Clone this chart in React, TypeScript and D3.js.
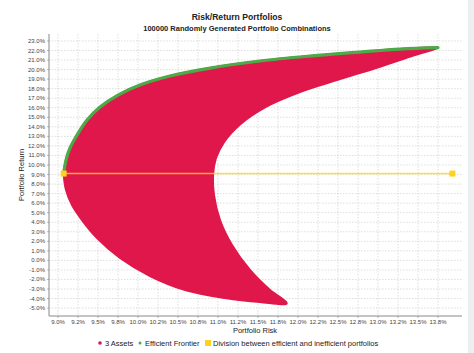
import React from "react";
import { scaleLinear, line, curveCatmullRom } from "d3";

// efficient (upper) frontier, from the minimum-variance point to the top tip
const upperRisk = [9.07, 9.1, 9.15, 9.238, 9.363, 9.525, 9.75, 10.025, 10.4, 10.9, 11.525, 12.15, 12.775, 13.275, 13.75];
const upperRet = [9.1, 10.52, 11.78, 13.14, 14.71, 16.08, 17.33, 18.38, 19.32, 20.16, 20.9, 21.42, 21.84, 22.15, 22.3];

// inner edge of the cloud, from the top tip down to the bottom tip
const innerRisk = [13.45, 13.025, 12.525, 12.025, 11.588, 11.275, 11.075, 10.975, 10.938, 10.95, 11.025, 11.175, 11.4, 11.65, 11.86];
const innerRet = [21.5, 20.3, 19.0, 17.65, 16.05, 14.25, 12.4, 10.73, 8.95, 6.85, 4.23, 1.61, -1.01, -3.11, -4.5];

// lower outer edge, from the bottom tip back to the minimum-variance point
const lowerRisk = [11.525, 11.088, 10.588, 10.15, 9.775, 9.488, 9.3, 9.175, 9.1, 9.075];
const lowerRet = [-4.36, -3.94, -3.11, -1.64, 0.25, 2.34, 4.23, 5.8, 7.38, 8.63];

// division line between efficient and inefficient portfolios
const divRisk = [9.07, 13.93];
const divRet = [9.1, 9.1];

const xTicks = [9, 9.25, 9.5, 9.75, 10, 10.25, 10.5, 10.75, 11, 11.25, 11.5, 11.75, 12, 12.25, 12.5, 12.75, 13, 13.25, 13.5, 13.75];
const xTickLabels = ["9.0%", "9.2%", "9.5%", "9.8%", "10.0%", "10.2%", "10.5%", "10.8%", "11.0%", "11.2%", "11.5%", "11.8%", "12.0%", "12.2%", "12.5%", "12.8%", "13.0%", "13.2%", "13.5%", "13.8%"];
const yTicks = [23, 22, 21, 20, 19, 18, 17, 16, 15, 14, 13, 12, 11, 10, 9, 8, 7, 6, 5, 4, 3, 2, 1, 0, -1, -2, -3, -4, -5];
const yTickLabels = yTicks.map((v) => `${v.toFixed(1)}%`);

const RED = "#e0174a";
const GREEN = "#4caa48";
const YELLOW = "#ffd21f";

export default function App() {
  const W = 474;
  const H = 353;
  const left = 49;
  const right = 462;
  const top = 34;
  const bottom = 316;

  const x = scaleLinear().domain([8.8875, 14.05]).range([left, right]);
  const y = scaleLinear().domain([-5.83, 23.73]).range([bottom, top]);

  const pts: [number, number][] = [];
  upperRisk.forEach((r, i) => pts.push([r, upperRet[i]]));
  innerRisk.forEach((r, i) => pts.push([r, innerRet[i]]));
  lowerRisk.forEach((r, i) => pts.push([r, lowerRet[i]]));

  const path = line<[number, number]>()
    .x((d) => x(d[0]))
    .y((d) => y(d[1]))
    .curve(curveCatmullRom);

  const frontier: [number, number][] = upperRisk.map((r, i) => [r, upperRet[i]]);
  const font = "'Liberation Sans', Arial, sans-serif";

  return (
    <svg
      width={W}
      height={H}
      style={{ position: "absolute", left: 0, top: 0, background: "#fff" }}
      fontFamily={font}
    >
      <rect x={468} y={0} width={6} height={H} fill="#eceff1" />
      <text x={237} y={20} textAnchor="middle" fontSize={8.6} fontWeight="bold" fill="#222">
        Risk/Return Portfolios
      </text>
      <text x={237} y={30.5} textAnchor="middle" fontSize={7.5} fontWeight="bold" fill="#222">
        100000 Randomly Generated Portfolio Combinations
      </text>

      {xTicks.map((t) => (
        <line key={"gx" + t} x1={x(t)} x2={x(t)} y1={top} y2={bottom} stroke="#c8c8c8" strokeWidth={0.6} strokeDasharray="1.5,1.5" />
      ))}
      {yTicks.map((t) => (
        <line key={"gy" + t} x1={left} x2={right} y1={y(t)} y2={y(t)} stroke="#c8c8c8" strokeWidth={0.6} strokeDasharray="1.5,1.5" />
      ))}

      <path d={path(pts) + "Z"} fill={RED} stroke={RED} strokeWidth={2} strokeLinejoin="round" />
      <path d={path(frontier) || ""} fill="none" stroke={GREEN} strokeWidth={3.2} strokeLinecap="round" />

      <line x1={x(divRisk[0])} x2={x(divRisk[1])} y1={y(divRet[0])} y2={y(divRet[1])} stroke={YELLOW} strokeOpacity={0.8} strokeWidth={1.6} />
      {divRisk.map((r, i) => (
        <rect key={"sq" + i} x={x(r) - 3} y={y(divRet[i]) - 3} width={6} height={6} fill={YELLOW} />
      ))}

      <line x1={left} x2={left} y1={top} y2={bottom} stroke="#888" strokeWidth={1} />
      <line x1={left} x2={right} y1={bottom} y2={bottom} stroke="#888" strokeWidth={1} />

      {yTicks.map((t, i) => (
        <g key={"yt" + t}>
          <line x1={left - 2} x2={left} y1={y(t)} y2={y(t)} stroke="#888" strokeWidth={0.6} />
          <text x={left - 4} y={y(t) + 2} textAnchor="end" fontSize={6} fill="#444">
            {yTickLabels[i]}
          </text>
        </g>
      ))}
      {xTicks.map((t, i) => (
        <g key={"xt" + t}>
          <line x1={x(t)} x2={x(t)} y1={bottom} y2={bottom + 2} stroke="#888" strokeWidth={0.6} />
          <text x={x(t)} y={bottom + 8} textAnchor="middle" fontSize={6} fill="#444">
            {xTickLabels[i]}
          </text>
        </g>
      ))}

      <text x={255} y={333} textAnchor="middle" fontSize={7.5} fill="#222">
        Portfolio Risk
      </text>
      <text transform="translate(24,175) rotate(-90)" textAnchor="middle" fontSize={7.5} fill="#222">
        Portfolio Return
      </text>

      <g fontSize={7.5} fill="#222">
        <circle cx={100} cy={343} r={1.8} fill={RED} />
        <text x={105} y={346}>3 Assets</text>
        <circle cx={140} cy={343} r={1.5} fill={GREEN} />
        <text x={145} y={346}>Efficient Frontier</text>
        <rect x={205} y={340} width={6} height={6} fill={YELLOW} />
        <text x={213} y={346}>Division between efficient and inefficient portfolios</text>
      </g>
    </svg>
  );
}
